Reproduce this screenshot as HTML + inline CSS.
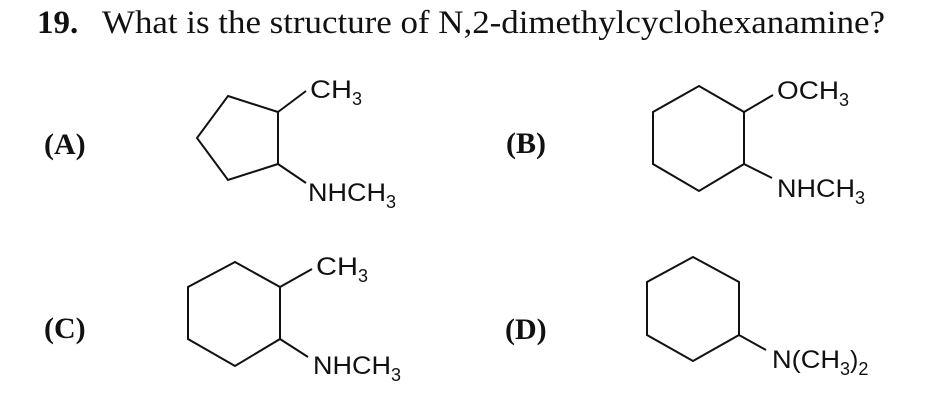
<!DOCTYPE html>
<html><head><meta charset="utf-8"><style>
html,body{margin:0;padding:0;background:#fff;}
svg{display:block;}
.t{font-family:"Liberation Serif",serif;fill:#111;}
.c{font-family:"Liberation Sans",sans-serif;font-size:25px;fill:#111;}
.s{font-size:18px;}
</style></head><body>
<svg width="938" height="416" viewBox="0 0 938 416" xmlns="http://www.w3.org/2000/svg">
<text class="t" x="37" y="33" font-size="33" font-weight="bold">19.</text>
<text class="t" x="102" y="33" font-size="33" textLength="783" lengthAdjust="spacingAndGlyphs">What is the structure of N,2-dimethylcyclohexanamine?</text>

<g class="t" font-size="30" font-weight="bold">
<text x="44" y="154">(A)</text>
<text x="506" y="153">(B)</text>
<text x="44" y="338">(C)</text>
<text x="505" y="339">(D)</text>
</g>

<g fill="none" stroke="#111" stroke-width="2" stroke-linejoin="miter">
<polygon points="228,96 278,112 278,164 228,180 197,138"/>
<line x1="278" y1="112" x2="306" y2="91"/>
<line x1="278" y1="164" x2="306" y2="183"/>

<polygon points="699,86 744,112 744,164 699,191 653,164 653,112"/>
<line x1="744" y1="112" x2="773" y2="95"/>
<line x1="744" y1="164" x2="772" y2="178"/>

<polygon points="235,262 280,287 280,339 235,366 188,339 188,287"/>
<line x1="280" y1="287" x2="312" y2="269"/>
<line x1="280" y1="339" x2="308" y2="357"/>

<polygon points="693,257 739,282 739,335 693,361 647,335 647,282"/>
<line x1="739" y1="335" x2="766" y2="350"/>
</g>

<g class="c">
<text x="310" y="98"><tspan textLength="42" lengthAdjust="spacingAndGlyphs">CH</tspan><tspan class="s" dy="7">3</tspan></text>
<text x="308" y="201"><tspan textLength="78" lengthAdjust="spacingAndGlyphs">NHCH</tspan><tspan class="s" dy="7">3</tspan></text>
<text x="777" y="99"><tspan textLength="62" lengthAdjust="spacingAndGlyphs">OCH</tspan><tspan class="s" dy="7">3</tspan></text>
<text x="777" y="197"><tspan textLength="78" lengthAdjust="spacingAndGlyphs">NHCH</tspan><tspan class="s" dy="7">3</tspan></text>
<text x="316" y="275"><tspan textLength="42" lengthAdjust="spacingAndGlyphs">CH</tspan><tspan class="s" dy="7">3</tspan></text>
<text x="313" y="374"><tspan textLength="78" lengthAdjust="spacingAndGlyphs">NHCH</tspan><tspan class="s" dy="7">3</tspan></text>
<text x="772" y="368"><tspan textLength="68" lengthAdjust="spacingAndGlyphs">N(CH</tspan><tspan class="s" dy="7">3</tspan><tspan dy="-7">)</tspan><tspan class="s" dy="7">2</tspan></text>
</g>
</svg>
</body></html>
